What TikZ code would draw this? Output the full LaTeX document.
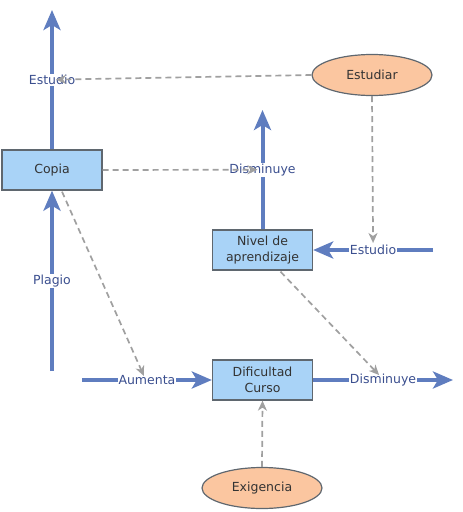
\documentclass[tikz,border=0pt]{standalone}
\usepackage{fontspec}
\setmainfont{DejaVu Sans}
\usetikzlibrary{arrows.meta,shapes.geometric,calc}
\definecolor{flowblue}{HTML}{5F7DBF}
\definecolor{lbltext}{HTML}{3B4F8F}
\definecolor{boxfill}{HTML}{A9D3F7}
\definecolor{boxdraw}{HTML}{5F676F}
\definecolor{ellfill}{HTML}{FBC6A0}
\definecolor{dashgray}{HTML}{A0A0A0}
\definecolor{nodetext}{HTML}{333333}
\tikzset{
  stock/.style={draw=boxdraw, line width=1.3pt, fill=boxfill, minimum width=100pt, minimum height=40pt, inner sep=1pt, align=center, font=\fontsize{12.5}{16.5}\selectfont, text=nodetext},
  aux/.style={ellipse, draw=boxdraw, line width=1.2pt, fill=ellfill, minimum width=120pt, minimum height=41pt, inner sep=0pt, font=\fontsize{12.5}{15}\selectfont, text=nodetext},
  flow/.style={draw=flowblue, line width=4pt, -{Stealth[length=20pt,width=17pt,inset=5pt]}},
  lbl/.style={fill=white, inner sep=1pt, text=lbltext, font=\fontsize{12.5}{15}\selectfont},
  link/.style={draw=dashgray, line width=1.7pt, dash pattern=on 6pt off 4pt, -{Stealth[length=10pt,width=9pt,inset=3pt]}}
}
\begin{document}
\begin{tikzpicture}[x=1pt,y=-1pt]
\useasboundingbox (0,0) rectangle (463,512);
% nodes
\node[stock] (copia) at (52,170) {Copia};
\node[stock] (nivel) at (262.5,250) {Nivel de\\aprendizaje};
\node[stock] (dif) at (262.5,380) {Dificultad\\Curso};
\node[aux] (estudiar) at (372,75) {Estudiar};
\node[aux] (exig) at (262,488) {Exigencia};
% free ends
\coordinate (topend) at (52,10);
\coordinate (plagsrc) at (52,371);
\coordinate (nivtop) at (262.5,110);
\coordinate (estsrc) at (433,250);
\coordinate (aumsrc) at (82,380);
\coordinate (disend) at (453,380);
% flows
\draw[flow] (copia.north) -- node[lbl] (l-est1) {Estudio} (topend);
\draw[flow] (plagsrc) -- node[lbl] (l-plag) {Plagio} (copia.south);
\draw[flow] (nivel.north) -- node[lbl] (l-dis1) {Disminuye} (nivtop);
\draw[flow] (estsrc) -- node[lbl] (l-est2) {Estudio} (nivel.east);
\draw[flow] (aumsrc) -- node[lbl] (l-aum) {Aumenta} (dif.west);
\draw[flow] (dif.east) -- node[lbl] (l-dis2) {Disminuye} (disend);
% links
\draw[link, shorten >=4pt] (estudiar.west) -- (l-est1.center);
\draw[link] (estudiar.south) -- ($(l-est2.center)+(0,-7)$);
\draw[link, shorten >=5pt] (copia.east) -- (l-dis1.center);
\draw[link] ($(copia.south)+(10,1)$) -- ($(l-aum.center)+(-3,-4)$);
\draw[link] ($(nivel.south)+(18,1)$) -- ($(l-dis2.center)+(-4,-5)$);
\draw[link] (exig.north) -- (dif.south);
\end{tikzpicture}
\end{document}
